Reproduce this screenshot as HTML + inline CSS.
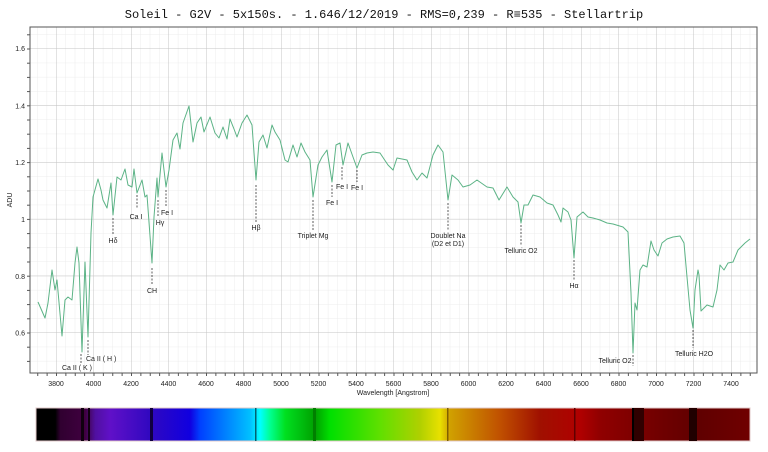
<!DOCTYPE html>
<html><head><meta charset="utf-8"><style>
html,body{margin:0;padding:0;background:#fff;width:768px;height:452px;overflow:hidden}
svg{display:block}
text{font-family:"Liberation Sans",sans-serif;fill:#222;font-size:7px}
</style></head><body>
<svg width="768" height="452" viewBox="0 0 768 452" xmlns="http://www.w3.org/2000/svg">
<defs>
<pattern id="minor" x="56" y="48.5" width="9.375" height="14.2" patternUnits="userSpaceOnUse">
<path d="M0 0V14.2M0 0H9.375" stroke="#ececec" stroke-width="1" fill="none"/>
</pattern>
<pattern id="major" x="56" y="48.5" width="37.5" height="56.8" patternUnits="userSpaceOnUse">
<path d="M0 0V56.8M0 0H37.5" stroke="#c4c4c4" stroke-width="1" fill="none"/>
</pattern>
<pattern id="xt" x="56" y="0" width="9.375" height="10" patternUnits="userSpaceOnUse">
<path d="M0.5 0V10" stroke="#555" stroke-width="1"/>
</pattern>
<pattern id="yt" x="0" y="48.5" width="10" height="14.2" patternUnits="userSpaceOnUse">
<path d="M0 0.5H10" stroke="#555" stroke-width="1"/>
</pattern>
<linearGradient id="sp" x1="36" x2="750" y1="0" y2="0" gradientUnits="userSpaceOnUse">
<stop offset="0" stop-color="#000"/>
<stop offset="0.027" stop-color="#000"/>
<stop offset="0.034" stop-color="#300030"/>
<stop offset="0.069" stop-color="#400040"/>
<stop offset="0.083" stop-color="#5010a0"/>
<stop offset="0.104" stop-color="#6010c8"/>
<stop offset="0.16" stop-color="#3008c0"/>
<stop offset="0.216" stop-color="#1000e0"/>
<stop offset="0.23" stop-color="#0040ff"/>
<stop offset="0.30" stop-color="#00c0ff"/>
<stop offset="0.314" stop-color="#00ffff"/>
<stop offset="0.328" stop-color="#00ff90"/>
<stop offset="0.349" stop-color="#00e020"/>
<stop offset="0.391" stop-color="#00a000"/>
<stop offset="0.412" stop-color="#00e000"/>
<stop offset="0.482" stop-color="#60e000"/>
<stop offset="0.538" stop-color="#b0d000"/>
<stop offset="0.566" stop-color="#e8e000"/>
<stop offset="0.58" stop-color="#d0a000"/>
<stop offset="0.65" stop-color="#c05000"/>
<stop offset="0.706" stop-color="#a01000"/>
<stop offset="0.762" stop-color="#b00000"/>
<stop offset="0.79" stop-color="#900000"/>
<stop offset="0.832" stop-color="#800000"/>
<stop offset="0.874" stop-color="#700000"/>
<stop offset="0.93" stop-color="#600000"/>
<stop offset="1" stop-color="#700000"/>
</linearGradient>
</defs>

<text x="384" y="18" text-anchor="middle" style="font-family:'Liberation Mono',monospace;font-size:12px;fill:#111">Soleil - G2V - 5x150s. - 1.646/12/2019 - RMS=0,239 - R≡535 - Stellartrip</text>

<rect x="30" y="27" width="727" height="346" fill="#fff"/>
<rect x="30" y="27" width="727" height="346" fill="url(#minor)"/>
<rect x="30" y="27" width="727" height="346" fill="url(#major)"/>
<rect x="30" y="27" width="727" height="346" fill="none" stroke="#555" stroke-width="1"/>
<rect x="31" y="373" width="726" height="3" fill="url(#xt)"/>
<rect x="27" y="28" width="3" height="345" fill="url(#yt)"/>

<g text-anchor="end">
<text x="25" y="51">1.6</text><text x="25" y="108.5">1.4</text><text x="25" y="165">1.2</text>
<text x="25" y="222">1</text><text x="25" y="279">0.8</text><text x="25" y="335.5">0.6</text>
</g>
<text transform="translate(12,200) rotate(-90)" text-anchor="middle">ADU</text>
<g text-anchor="middle">
<text x="56" y="386">3800</text><text x="93.5" y="386">4000</text><text x="131" y="386">4200</text>
<text x="168.5" y="386">4400</text><text x="206" y="386">4600</text><text x="243.5" y="386">4800</text>
<text x="281" y="386">5000</text><text x="318.5" y="386">5200</text><text x="356" y="386">5400</text>
<text x="393.5" y="386">5600</text><text x="431" y="386">5800</text><text x="468.5" y="386">6000</text>
<text x="506" y="386">6200</text><text x="543.5" y="386">6400</text><text x="581" y="386">6600</text>
<text x="618.5" y="386">6800</text><text x="656" y="386">7000</text><text x="693.5" y="386">7200</text>
<text x="731" y="386">7400</text>
<text x="393" y="395">Wavelength [Angstrom]</text>
</g>

<polyline fill="none" stroke="#5cb386" stroke-width="1" stroke-linejoin="round" points="
38,302 45,318 48,303 52,270 55,290 57,280 62,336 65,300 68,297 72,300 75,263 77,247 79,263 82,352 85,262 88,337 91,233 93,197 98,179 101,190 103,200 107,208 111,183 113,215 117,177 121,180 125,169 128,185 132,187 134,169 137,193 142,180 145,197 147,195 152,263 154,217 157,178 158,197 162,153 166,187 169,170 173,140 177,133 180,149 183,123 189,106 193,142 197,123 201,117 204,132 210,117 215,133 219,138 223,127 227,139 230,119 234,129 237,137 242,123 247,115 252,125 256,180 259,142 263,135 267,148 272,125 275,132 280,140 285,160 288,162 293,145 297,157 301,143 305,152 310,160 313,197 318,165 322,157 327,150 332,182 336,145 340,143 343,165 348,143 353,157 357,168 362,155 367,153 373,152 380,153 388,165 393,170 397,158 407,160 412,172 417,180 422,173 427,178 433,155 438,145 443,152 448,200 452,175 458,180 463,187 470,185 477,180 487,187 493,188 499,200 507,187 513,197 518,202 521,223 524,205 528,205 533,195 540,197 547,203 553,205 558,215 561,222 563,208 568,212 571,220 574,258 577,217 583,212 588,217 593,218 600,220 607,223 613,224 623,227 628,232 631,293 633,353 635,303 637,310 640,270 643,265 647,267 651,241 654,250 658,256 662,243 667,239 673,237 680,236 684,243 687,277 690,310 693,328 695,290 698,270 699,275 701,311 707,305 713,307 717,290 720,265 724,270 728,263 733,262 738,250 745,243 750,239"/>

<g stroke="#333" stroke-width="0.8" stroke-dasharray="2,1.5">
<path d="M81 354V364M88 340V355M113 218V235M137 195V208M152 268V285M158 200V217M166 190V207M256 185V222M313 200V230M332 185V197M342 167V181M357 170V182M448 203V230M521 225V245M574 260V280M633 355V366M693 330V348"/>
</g>
<text x="62" y="370">Ca II ( K )</text>
<text x="86" y="361">Ca II ( H )</text>
<g text-anchor="middle">
<text x="113" y="243">Hδ</text>
<text x="136" y="219">Ca I</text>
<text x="152" y="293">CH</text>
<text x="160" y="225">Hγ</text>
<text x="167" y="215">Fe I</text>
<text x="256" y="230">Hβ</text>
<text x="313" y="238">Triplet Mg</text>
<text x="332" y="205">Fe I</text>
<text x="342" y="189">Fe I</text>
<text x="357" y="190">Fe I</text>
<text x="448" y="238">Doublet Na</text>
<text x="448" y="246">(D2 et D1)</text>
<text x="521" y="253">Telluric O2</text>
<text x="574" y="288">Hα</text>
<text x="615" y="363">Telluric O2</text>
<text x="694" y="356">Telluric H2O</text>
</g>

<rect x="36" y="408" width="714" height="33" fill="url(#sp)" stroke="#e0c8c8" stroke-width="1"/>
<rect x="81" y="408" width="3" height="33" fill="#100010"/>
<rect x="88" y="408" width="2" height="33" fill="#100010"/>
<rect x="150" y="408" width="3" height="33" fill="#100040"/>
<rect x="255" y="408" width="1.5" height="33" fill="#006070"/>
<rect x="313" y="408" width="3" height="33" fill="#008000"/>
<rect x="447" y="408" width="1.5" height="33" fill="#806000"/>
<rect x="574" y="408" width="1.5" height="33" fill="#600000"/>
<rect x="632" y="408" width="2" height="33" fill="#000"/>
<rect x="634" y="408" width="10" height="33" fill="#300000"/>
<rect x="689" y="408" width="8" height="33" fill="#200000"/>
</svg>
</body></html>
